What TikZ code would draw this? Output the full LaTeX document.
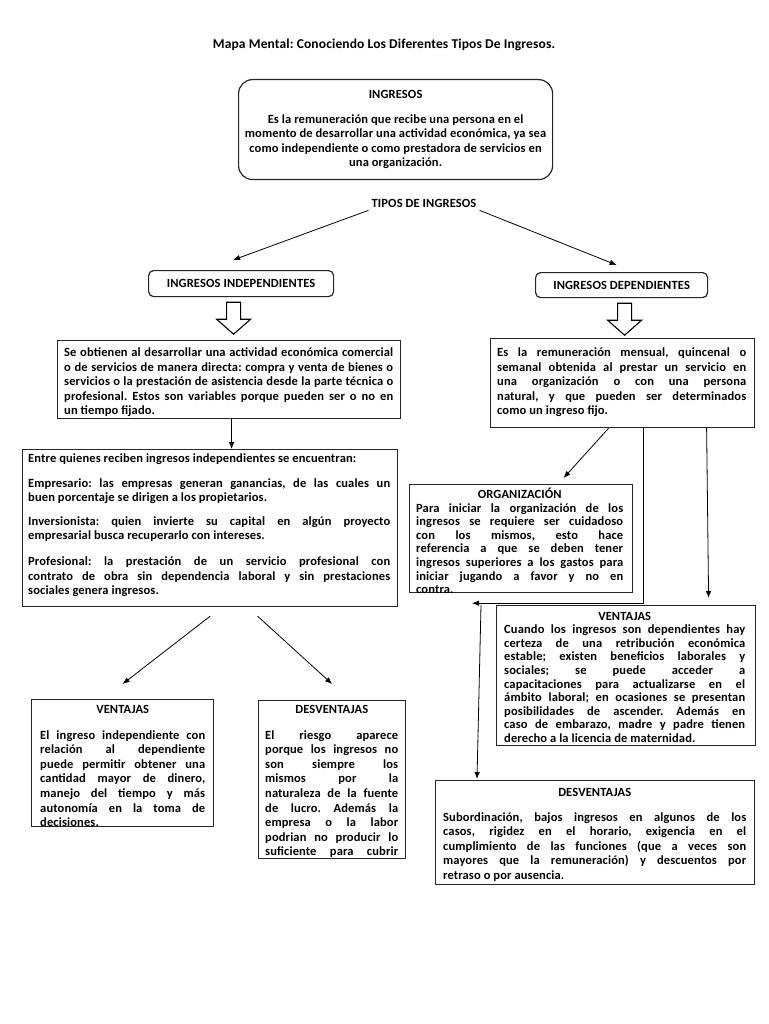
\documentclass[tikz,border=0pt]{standalone}
\usepackage{fontspec}
\setmainfont{Carlito}[LetterSpace=1]
\usetikzlibrary{arrows.meta}
\frenchspacing
% one justified line, one last line, one centred title line
\newcommand\jline[1]{\hbox to\hsize{#1}}
\newcommand\eline[1]{\hbox to\hsize{#1\hfil}}
\newcommand\tline[1]{\hbox to\hsize{\hfil#1\hfil}}
\tikzstyle{every node}=[inner sep=0pt,font=\bfseries\fontsize{12.5}{14.6}\selectfont]
\tikzstyle{frame}=[draw=black!85,line width=1.2pt,anchor=north west]
\tikzstyle{tagbox}=[frame,rounded corners=5pt]
\tikzstyle{body}=[anchor=base west]
\tikzstyle{tight}=[font=\bfseries\fontsize{12.5}{13.6}\selectfont]
\tikzstyle{arr}=[-{Latex[length=7pt,width=5.5pt]},line width=0.8pt]
\tikzstyle{blk}=[line width=1.1pt,line join=miter]

\begin{document}
\begin{tikzpicture}[x=1pt,y=-1pt]
  \useasboundingbox (0,0) rectangle (768,1024);
  \node[font=\bfseries\fontsize{13.5}{16}\selectfont] (title) at (384,45) {Mapa Mental: Conociendo Los Diferentes Tipos De Ingresos.};

  % top of the map
  \node[frame,rounded corners=14pt,minimum width=314pt,minimum height=100pt,align=center] (ingresos) at (238,79)
    {INGRESOS\\[10pt]
     Es la remuneración que recibe una persona en el\\
     momento de desarrollar una actividad económica, ya sea\\
     como independiente o como prestadora de servicios en\\
     una organización.};
  \node[inner sep=3pt] (tipos) at (424,203) {TIPOS DE INGRESOS};
  \node[tagbox,minimum width=185pt,minimum height=26pt] (indep) at (148,270) {INGRESOS INDEPENDIENTES};
  \node[tagbox,minimum width=172pt,minimum height=25pt] (dep) at (535,272) {INGRESOS DEPENDIENTES};

  % hollow arrows
  \draw[blk] ([xshift=-7.5pt,yshift=-5pt]indep.south) ++(-7,0) -- ++(0,17) -- ++(-10,0) -- ++(17,15)
    -- ++(17,-15) -- ++(-10,0) -- ++(0,-17) -- cycle;
  \draw[blk] ([xshift=3pt,yshift=-5pt]dep.south) ++(-7,0) -- ++(0,17) -- ++(-10,0) -- ++(17,15)
    -- ++(17,-15) -- ++(-10,0) -- ++(0,-17) -- cycle;

  % independientes
  \node[frame,minimum width=343pt,minimum height=78pt] (b1) at (57,340) {};
  \node[body] (b1t) at (64,356.5) {\vtop{\hsize=329pt
    \jline{Se obtienen al desarrollar una actividad económica comercial}
    \jline{o de servicios de manera directa: compra y venta de bienes o}
    \jline{servicios o la prestación de asistencia desde la parte técnica o}
    \jline{profesional. Estos son variables porque pueden ser o no en}
    \eline{un tiempo fijado.}}};
  \node[frame,minimum width=375pt,minimum height=157pt] (b2) at (22,449) {};
  \node[body] (b2t) at (28,462.5) {\vtop{\hsize=362pt
    \eline{Entre quienes reciben ingresos independientes se encuentran:}\vskip10pt
    \jline{Empresario: las empresas generan ganancias, de las cuales un}
    \eline{buen porcentaje se dirigen a los propietarios.}\vskip9pt
    \jline{Inversionista: quien invierte su capital en algún proyecto}
    \eline{empresarial busca recuperarlo con intereses.}\vskip11pt
    \jline{Profesional: la prestación de un servicio profesional con}
    \jline{contrato de obra sin dependencia laboral y sin prestaciones}
    \eline{sociales genera ingresos.}}};

  \node[frame,minimum width=182pt,minimum height=127pt] (vind) at (31,699) {};
  \begin{scope}
    \clip (vind.north west) rectangle (vind.south east);
    \node[body] (vindt) at (40,713.5) {\vtop{\hsize=165pt
      \tline{VENTAJAS}\vskip11pt
      \jline{El ingreso independiente con}
      \jline{relación al dependiente}
      \jline{puede permitir obtener una}
      \jline{cantidad mayor de dinero,}
      \jline{manejo del tiempo y más}
      \jline{autonomía en la toma de}
      \eline{decisiones.}}};
  \end{scope}
  \node[frame,minimum width=147pt,minimum height=158pt] (dind) at (258,700) {};
  \begin{scope}
    \clip (dind.north west) rectangle (dind.south east);
    \node[body] (dindt) at (265,713.5) {\vtop{\hsize=133pt
      \tline{DESVENTAJAS}\vskip11pt
      \jline{El riesgo aparece}
      \jline{porque los ingresos no}
      \jline{son siempre los}
      \jline{mismos por la}
      \jline{naturaleza de la fuente}
      \jline{de lucro. Además la}
      \jline{empresa o la labor}
      \jline{podrian no producir lo}
      \jline{suficiente para cubrir}}};
  \end{scope}

  % dependientes
  \node[frame,minimum width=264pt,minimum height=89pt] (depb) at (490,338) {};
  \node[body] (depbt) at (497,356.5) {\vtop{\hsize=249pt
    \jline{Es la remuneración mensual, quincenal o}
    \jline{semanal obtenida al prestar un servicio en}
    \jline{una organización o con una persona}
    \jline{natural, y que pueden ser determinados}
    \eline{como un ingreso fijo.}}};
  \node[frame,minimum width=223pt,minimum height=108pt] (org) at (409,484) {};
  \begin{scope}
    \clip (org.north west) rectangle (org.south east);
    \node[body,tight] (orgt) at (416,498.5) {\vtop{\hsize=207pt
      \tline{ORGANIZACIÓN}
      \jline{Para iniciar la organización de los}
      \jline{ingresos se requiere ser cuidadoso}
      \jline{con los mismos, esto hace}
      \jline{referencia a que se deben tener}
      \jline{ingresos superiores a los gastos para}
      \jline{iniciar jugando a favor y no en}
      \eline{contra.}}};
  \end{scope}
  \node[frame,minimum width=259pt,minimum height=140pt] (vdep) at (496,605) {};
  \node[body,tight] (vdept) at (504,620) {\vtop{\hsize=241pt
    \tline{VENTAJAS}
    \jline{Cuando los ingresos son dependientes hay}
    \jline{certeza de una retribución económica}
    \jline{estable; existen beneficios laborales y}
    \jline{sociales; se puede acceder a}
    \jline{capacitaciones para actualizarse en el}
    \jline{ámbito laboral; en ocasiones se presentan}
    \jline{posibilidades de ascender. Además en}
    \jline{caso de embarazo, madre y padre tienen}
    \eline{derecho a la licencia de maternidad.}}};
  \node[frame,minimum width=319pt,minimum height=104pt] (ddep) at (435,780) {};
  \node[body] (ddept) at (443,796.5) {\vtop{\hsize=303pt
    \tline{DESVENTAJAS}\vskip10pt
    \jline{Subordinación, bajos ingresos en algunos de los}
    \jline{casos, rigidez en el horario, exigencia en el}
    \jline{cumplimiento de las funciones (que a veces son}
    \jline{mayores que la remuneración) y descuentos por}
    \eline{retraso o por ausencia.}}};

  % connectors
  \draw[arr] (tipos.south west) -- ([xshift=-8pt,yshift=10pt]indep.north);
  \draw[arr] (tipos.south east) -- ([xshift=-5pt,yshift=7pt]dep.north);
  \draw[arr] ([xshift=2.5pt]b1.south) -- ([xshift=2.5pt]b1.south |- b2.north);
  \draw[arr] ([yshift=-9pt]b2.south) -- ([yshift=15pt]vind.north);
  \draw[arr] ([xshift=47.5pt,yshift=-9pt]b2.south) -- ([yshift=16pt]dind.north);
  \draw[arr] ([xshift=-14pt]depb.south) -- ([xshift=42.5pt,yshift=6pt]org.north);
  \draw[arr] ([xshift=21pt]depb.south) |- ([xshift=63pt,yshift=-10pt]org.south west);
  \draw[arr] ([xshift=72pt,yshift=-12pt]org.south west) -- ([xshift=42pt,yshift=1pt]ddep.north west);
  \draw[arr] ([xshift=84pt]depb.south) -- ([xshift=82.5pt,yshift=7pt]vdep.north);
\end{tikzpicture}
\end{document}
